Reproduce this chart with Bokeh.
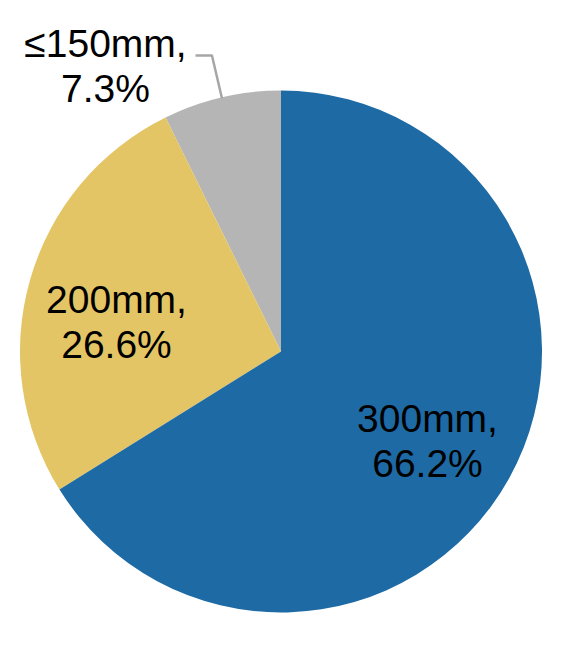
import math
from bokeh.plotting import figure
from bokeh.models import Range1d, ColumnDataSource
from bokeh.core.properties import value
from bokeh.embed import file_html
from bokeh.resources import INLINE

# Data (drawn counter-clockwise from 12 o'clock: ≤150mm, 200mm, 300mm)
categories = ["≤150mm", "200mm", "300mm"]
shares = [7.3, 26.6, 66.2]
share_labels = ["7.3%", "26.6%", "66.2%"]
colors = ["#b5b5b5", "#e3c566", "#1d6aa4"]

W, H = 552, 632
p = figure(width=W, height=H, output_backend="svg", toolbar_location=None,
           x_range=Range1d(0, W), y_range=Range1d(0, H), min_border=0)
p.axis.visible = False
p.grid.visible = False
p.outline_line_color = None
p.background_fill_color = "white"

cx, cy, r = 280.5, 281.0, 261.0
total = sum(shares)
starts, ends = [], []
a = math.pi / 2
for s in shares:
    starts.append(a)
    a += 2 * math.pi * s / total
    ends.append(a)

src = ColumnDataSource(dict(start=starts, end=ends, color=colors))
p.wedge(x=cx, y=cy, radius=r, start_angle="start", end_angle="end",
        fill_color="color", line_color=None, direction="anticlock", source=src)

# Leader line for the small slice
mid = (starts[0] + ends[0]) / 2
ex, ey = cx + (r - 1) * math.cos(mid), cy + (r - 1) * math.sin(mid)
kx, ky = cx + 304 * math.cos(mid), cy + 304 * math.sin(mid)
p.line(x=[195, kx, ex], y=[ky, ky, ey], line_color="#a6a6a6", line_width=2.5)

# Label positions (layout)
label_pos = {
    "≤150mm": (105, 589),
    "200mm": (116, 333),
    "300mm": (427, 214),
}
line_gap = 45
for cat, lab in zip(categories, share_labels):
    x, y = label_pos[cat]
    p.text(x=[x, x], y=[y, y - line_gap], text=[cat + ",", lab],
           text_font=value("Liberation Sans"), text_font_size="39px",
           text_color="black", text_align="center", text_baseline="alphabetic")

open("out.html", "w").write(file_html(p, INLINE))
